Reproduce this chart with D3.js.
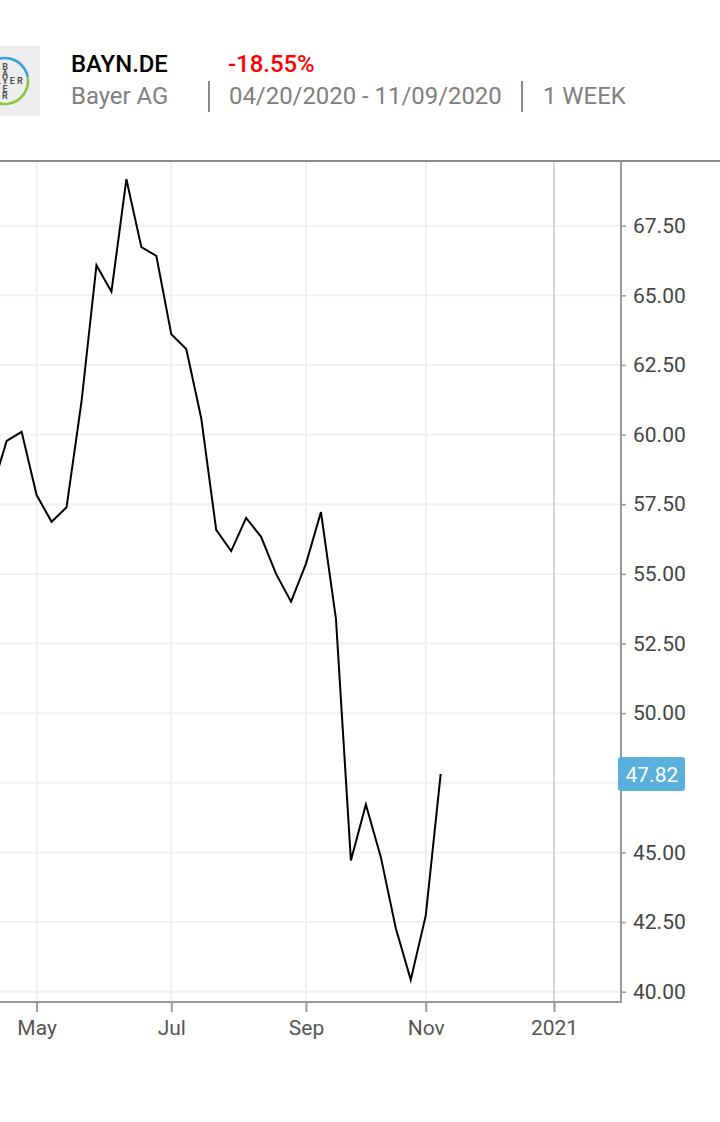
<!DOCTYPE html>
<html><head><meta charset="utf-8">
<script src="https://cdn.jsdelivr.net/npm/d3@7"></script>
<style>body{margin:0;background:#fff}svg{display:block;font-family:Roboto,"Noto Sans",sans-serif}</style>
</head><body>
<svg id="c" width="720" height="1122"></svg>
<script>
// ---- data ----
const dates = ["2020-04-13","2020-04-20","2020-04-27","2020-05-04","2020-05-11","2020-05-18","2020-05-25",
  "2020-06-01","2020-06-08","2020-06-15","2020-06-22","2020-06-29","2020-07-06","2020-07-13","2020-07-20",
  "2020-07-27","2020-08-03","2020-08-10","2020-08-17","2020-08-24","2020-08-31","2020-09-07","2020-09-14",
  "2020-09-21","2020-09-28","2020-10-05","2020-10-12","2020-10-19","2020-10-26","2020-11-02","2020-11-09"];
const closes = [58.0,59.77,60.10,57.83,56.87,57.39,61.18,
  66.08,65.13,69.17,66.73,66.42,63.60,63.07,60.59,
  56.58,55.82,57.01,56.33,55.0,54.0,55.37,57.22,
  53.39,44.71,46.72,44.83,42.28,40.43,42.73,47.82];
const yTicks = [40,42.5,45,47.5,50,52.5,55,57.5,60,62.5,65,67.5];
const xTickDates = ["2020-05-04","2020-07-06","2020-09-07","2020-11-02","2021-01-01"];
const xTickLabels = ["May","Jul","Sep","Nov","2021"];
const symbol = "BAYN.DE", companyName = "Bayer AG", changeText = "-18.55%";
const rangeText = "04/20/2020 - 11/09/2020", intervalText = "1 WEEK";
const lastValueText = "47.82";

// ---- layout ----
const parse = d3.utcParse("%Y-%m-%d");
const plot = {left:0, top:161, right:620, bottom:1002};
const x = d3.scaleUtc().domain([parse("2020-04-20"), parse("2021-02-01")]).range([6.67, 620.3]);
const y = d3.scaleLinear().domain([40, 67.5]).range([991.7, 225.7]);
const data = dates.map((d,i)=>({date:parse(d), v:closes[i]}));
const svg = d3.select("#c");

// ---- header ----
const logo = svg.append("g");
logo.append("rect").attr("x",-30).attr("y",46).attr("width",70).attr("height",70).attr("fill","#eeeeee");
const cx = 5, cy = 81, r = 23;
const arc = d3.arc().innerRadius(r-1.3).outerRadius(r+1.3);
logo.append("path").attr("transform",`translate(${cx},${cy})`)
  .attr("d",arc({startAngle:-Math.PI*0.55,endAngle:Math.PI*0.45})).attr("fill","#3aa3dc");
logo.append("path").attr("transform",`translate(${cx},${cy})`)
  .attr("d",arc({startAngle:Math.PI*0.45,endAngle:Math.PI*1.45})).attr("fill","#8cc63f");
const letters = ["B","A","Y","E","R"];
const lg = logo.append("g").attr("font-size",9).attr("font-weight",700).attr("fill","#555").attr("text-anchor","middle");
letters.forEach((L,i)=>{
  lg.append("text").attr("x",cx).attr("y",cy+(i-2)*7.4+3.3).text(L);
  if(i!==2) lg.append("text").attr("x",cx+(i-2)*7.4).attr("y",cy+3.3).text(L);
});

const hdr = svg.append("g").attr("font-size",23.9);
hdr.append("text").attr("x",71).attr("y",72).attr("font-weight",500).attr("fill","#000").text(symbol);
hdr.append("text").attr("x",228).attr("y",72).attr("font-weight",500).attr("fill","#ff0000").text(changeText);
hdr.append("text").attr("x",71).attr("y",104).attr("fill","#808080").text(companyName);
hdr.append("text").attr("x",229).attr("y",104).attr("fill","#808080").text(rangeText);
hdr.append("text").attr("x",543).attr("y",104).attr("fill","#808080").text(intervalText);
[209,522].forEach(sx=>hdr.append("line").attr("x1",sx).attr("x2",sx).attr("y1",81).attr("y2",112)
  .attr("stroke","#888").attr("stroke-width",2));

// ---- grid ----
const grid = svg.append("g");
grid.selectAll(".hg").data(yTicks).join("line")
  .attr("x1",plot.left).attr("x2",plot.right).attr("y1",d=>y(d)).attr("y2",d=>y(d))
  .attr("stroke","#f0f0f0").attr("stroke-width",2);
grid.selectAll(".vg").data(xTickDates).join("line")
  .attr("x1",d=>x(parse(d))).attr("x2",d=>x(parse(d))).attr("y1",plot.top).attr("y2",plot.bottom)
  .attr("stroke",(d,i)=>xTickLabels[i]==="2021"?"#d6d6d6":"#f0f0f0").attr("stroke-width",2);

// ---- line ----
svg.append("clipPath").attr("id","clip").append("rect")
  .attr("x",plot.left).attr("y",plot.top).attr("width",plot.right-plot.left).attr("height",plot.bottom-plot.top);
svg.append("path").datum(data).attr("clip-path","url(#clip)")
  .attr("d",d3.line().x(d=>x(d.date)).y(d=>y(d.v)))
  .attr("fill","none").attr("stroke","#000").attr("stroke-width",2);

// ---- frame ----
svg.append("line").attr("x1",0).attr("x2",720).attr("y1",plot.top).attr("y2",plot.top).attr("stroke","#8a8a8a").attr("stroke-width",2);
svg.append("line").attr("x1",621).attr("x2",621).attr("y1",plot.top).attr("y2",plot.bottom+1).attr("stroke","#999").attr("stroke-width",2);
svg.append("line").attr("x1",0).attr("x2",622).attr("y1",plot.bottom).attr("y2",plot.bottom).attr("stroke","#999").attr("stroke-width",2);

// ---- axes ----
const ya = svg.append("g").attr("transform","translate(621,0)")
  .call(d3.axisRight(y).tickValues(yTicks).tickFormat(d3.format(".2f")).tickSize(5).tickPadding(7));
ya.select(".domain").remove();
ya.selectAll("line").attr("stroke","#999").attr("stroke-width",1.5);
ya.selectAll("text").attr("font-size",21).attr("fill","#444").attr("font-family","Roboto");

const xa = svg.append("g").attr("transform",`translate(0,${plot.bottom})`)
  .call(d3.axisBottom(x).tickValues(xTickDates.map(parse)).tickFormat((d,i)=>xTickLabels[i]).tickSize(10).tickPadding(8));
xa.select(".domain").remove();
xa.selectAll("line").attr("stroke","#999").attr("stroke-width",2);
xa.selectAll("text").attr("font-size",21).attr("fill","#555").attr("font-family","Roboto");

// ---- last value badge ----
const last = data[data.length-1];
const by = y(last.v);
svg.append("rect").attr("x",618).attr("y",by-17).attr("width",67).attr("height",34).attr("rx",3)
  .attr("fill","#5aafdc");
svg.append("text").attr("x",625.5).attr("y",by+8).attr("font-size",21).attr("fill","#fff").text(lastValueText);
</script>
</body></html>
